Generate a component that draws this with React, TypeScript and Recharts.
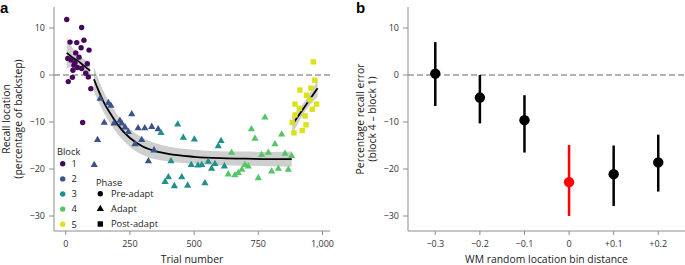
import React from "react";
import {
  ComposedChart,
  Scatter,
  Line,
  Area,
  XAxis,
  YAxis,
  ReferenceLine,
  ErrorBar,
} from "recharts";

const FONT = "'Open Sans', 'DejaVu Sans', sans-serif";
const AXIS = "#8c8c8c";
const TICK = "#333";
const INK = "#222";

// ---- panel a data ----
const blockNames = ["1", "2", "3", "4", "5"];
const blockColors = ["#46085c", "#3b528b", "#21908c", "#55c667", "#dbe219"];
const phaseNames = ["Pre-adapt", "Adapt", "Post-adapt"];
const trialTicks = [0, 250, 500, 750, 1000];
const recallTicks = [-30, -20, -10, 0, 10];

const block1 = [
  { trial: 4, recall: 11.8 }, { trial: 62, recall: 10.1 }, { trial: 17, recall: 7.0 },
  { trial: 43, recall: 6.9 }, { trial: 71, recall: 7.4 }, { trial: 60, recall: 5.8 },
  { trial: 91, recall: 5.3 }, { trial: 39, recall: 4.7 }, { trial: 8, recall: 3.5 },
  { trial: 21, recall: 3.2 }, { trial: 52, recall: 3.8 }, { trial: 84, recall: 2.4 },
  { trial: 32, recall: 2.1 }, { trial: 45, recall: 1.6 }, { trial: 62, recall: 1.4 },
  { trial: 28, recall: 1.0 }, { trial: 36, recall: 2.6 }, { trial: 78, recall: 0.4 },
  { trial: 88, recall: -0.4 }, { trial: 26, recall: -0.5 }, { trial: 10, recall: -1.4 },
  { trial: 98, recall: -2.9 }, { trial: 66, recall: -10.1 },
];

const block2 = [
  { trial: 111, recall: -19.1 }, { trial: 124, recall: -13.8 }, { trial: 134, recall: -5.0 },
  { trial: 166, recall: -5.9 }, { trial: 176, recall: -6.5 }, { trial: 150, recall: -10.1 },
  { trial: 188, recall: -10.3 }, { trial: 211, recall: -9.7 }, { trial: 218, recall: -10.3 },
  { trial: 231, recall: -11.1 }, { trial: 244, recall: -12.1 }, { trial: 257, recall: -8.3 },
  { trial: 270, recall: -14.7 }, { trial: 282, recall: -11.3 }, { trial: 296, recall: -13.8 },
  { trial: 308, recall: -11.3 }, { trial: 322, recall: -18.3 }, { trial: 335, recall: -11.0 },
  { trial: 344, recall: -16.0 }, { trial: 360, recall: -11.5 },
];

const block3 = [
  { trial: 371, recall: -12.3 }, { trial: 387, recall: -22.7 }, { trial: 400, recall: -21.7 },
  { trial: 410, recall: -18.3 }, { trial: 423, recall: -23.6 }, { trial: 436, recall: -10.5 },
  { trial: 452, recall: -21.7 }, { trial: 458, recall: -13.3 }, { trial: 475, recall: -23.5 },
  { trial: 489, recall: -19.1 }, { trial: 501, recall: -13.7 }, { trial: 515, recall: -19.2 },
  { trial: 530, recall: -19.1 }, { trial: 542, recall: -23.0 }, { trial: 555, recall: -18.4 },
  { trial: 568, recall: -19.9 }, { trial: 581, recall: -18.9 }, { trial: 594, recall: -15.1 },
  { trial: 605, recall: -14.0 }, { trial: 618, recall: -19.4 },
];

const block4 = [
  { trial: 633, recall: -21.1 }, { trial: 646, recall: -16.5 }, { trial: 659, recall: -21.3 },
  { trial: 672, recall: -20.8 }, { trial: 686, recall: -20.1 }, { trial: 698, recall: -19.1 },
  { trial: 711, recall: -19.4 }, { trial: 723, recall: -11.5 }, { trial: 737, recall: -13.5 },
  { trial: 750, recall: -21.9 }, { trial: 763, recall: -17.0 }, { trial: 776, recall: -9.0 },
  { trial: 789, recall: -16.5 }, { trial: 802, recall: -20.5 }, { trial: 815, recall: -14.7 },
  { trial: 828, recall: -19.9 }, { trial: 841, recall: -12.6 }, { trial: 854, recall: -16.7 },
  { trial: 867, recall: -20.1 }, { trial: 880, recall: -17.2 },
];

const block5 = [
  { trial: 964, recall: 2.8 }, { trial: 970, recall: -1.1 }, { trial: 912, recall: -3.2 },
  { trial: 955, recall: -2.8 }, { trial: 938, recall: -4.3 }, { trial: 951, recall: -5.3 },
  { trial: 893, recall: -6.2 }, { trial: 977, recall: -6.2 }, { trial: 910, recall: -7.1 },
  { trial: 960, recall: -7.3 }, { trial: 932, recall: -8.7 }, { trial: 893, recall: -8.5 },
  { trial: 882, recall: -10.1 }, { trial: 936, recall: -10.6 }, { trial: 921, recall: -11.8 },
  { trial: 889, recall: -12.3 },
];

// fitted curves and their confidence bands
const fitPreTrials = [4, 25, 50, 70, 95];
const fitPre = [4.7, 3.8, 2.9, 2.0, 0.9];
const fitPreLo = [1.4, 1.7, 1.6, 0.6, -1.0];
const fitPreHi = [8.0, 5.9, 4.2, 3.4, 2.8];

const fitAdaptTrials = [110, 130, 150, 175, 200, 250, 300, 350, 400, 500, 600, 700, 800, 880];
const fitAdapt = [-0.9, -3.6, -6.0, -8.3, -10.4, -13.4, -15.2, -16.2, -16.8, -17.4, -17.7, -17.8, -17.9, -17.9];
const fitAdaptLo = [-3.5, -6.0, -8.2, -10.4, -12.4, -15.3, -17.0, -17.9, -18.4, -18.9, -19.2, -19.3, -19.4, -19.5];
const fitAdaptHi = [1.7, -1.2, -3.8, -6.2, -8.4, -11.5, -13.4, -14.5, -15.2, -15.9, -16.2, -16.3, -16.4, -16.3];

const fitPostTrials = [882, 930, 981];
const fitPost = [-10.6, -6.8, -2.8];
const fitPostLo = [-12.6, -7.9, -4.6];
const fitPostHi = [-8.6, -5.7, -1.0];

// ---- panel b data ----
const binLabels = ["\u22120.3", "\u22120.2", "\u22120.1", "0", "+0.1", "+0.2"];
const binMeans = [0.3, -4.8, -9.6, -22.8, -21.1, -18.6];
const binLow = [-6.6, -10.3, -16.5, -30.0, -27.9, -24.8];
const binHigh = [7.0, 0.0, -4.3, -14.9, -15.0, -12.7];
const highlightBin = 3;

const toFit = (trials: number[], fit: number[], lo: number[], hi: number[]) =>
  trials.map((t, i) => ({ trial: t, fit: fit[i], band: [lo[i], hi[i]] }));

const fitPreRows = toFit(fitPreTrials, fitPre, fitPreLo, fitPreHi);
const fitAdaptRows = toFit(fitAdaptTrials, fitAdapt, fitAdaptLo, fitAdaptHi);
const fitPostRows = toFit(fitPostTrials, fitPost, fitPostLo, fitPostHi);

const binRows = binLabels.map((_, i) => ({
  bin: i,
  err: binMeans[i],
  ci: [binMeans[i] - binLow[i], binHigh[i] - binMeans[i]],
}));
const blackRows = binRows.filter((r) => r.bin !== highlightBin);
const redRows = binRows.filter((r) => r.bin === highlightBin);

const fmtNum = (v: number) => (v < 0 ? `\u2212${Math.abs(v)}` : `${v}`);
const fmtTrial = (v: number) => v.toLocaleString("en-US");

// marker shapes
const Circle = ({ cx, cy, fill, r = 2.7 }: any) => <circle cx={cx} cy={cy} r={r} fill={fill} />;
const Tri = ({ cx, cy, fill }: any) => (
  <polygon points={`${cx},${cy - 4.1} ${cx - 3.6},${cy + 2.2} ${cx + 3.6},${cy + 2.2}`} fill={fill} />
);
const Sq = ({ cx, cy, fill }: any) => <rect x={cx - 2.7} y={cy - 2.7} width={5.4} height={5.4} fill={fill} />;

const tickStyle = { fontSize: 9, fill: TICK, fontFamily: FONT };

const BAND = "#cfcfcf";

const PanelA = () => (
  <ComposedChart width={340} height={265} margin={{ top: 7, right: 10, bottom: 0, left: 0 }}>
    <XAxis
      type="number"
      dataKey="trial"
      domain={[-45.6, 1029.2]}
      ticks={trialTicks}
      tickFormatter={fmtTrial}
      height={34}
      tickSize={4}
      tickMargin={6}
      stroke={AXIS}
      tick={tickStyle}
    />
    <YAxis
      type="number"
      dataKey="recall"
      domain={[-33.19, 14.47]}
      ticks={recallTicks}
      tickFormatter={fmtNum}
      width={54}
      tickSize={5}
      tickMargin={4}
      stroke={AXIS}
      tick={tickStyle}
    />
    <ReferenceLine y={0} stroke="#666" strokeDasharray="6 3" />
    <Area data={fitPreRows} dataKey="band" type="monotone" stroke="none" fill={BAND} fillOpacity={1} isAnimationActive={false} />
    <Area data={fitAdaptRows} dataKey="band" type="monotone" stroke="none" fill={BAND} fillOpacity={1} isAnimationActive={false} />
    <Area data={fitPostRows} dataKey="band" type="monotone" stroke="none" fill={BAND} fillOpacity={1} isAnimationActive={false} />
    <Scatter data={block1} isAnimationActive={false} shape={(p: any) => <Circle cx={p.cx} cy={p.cy} fill={blockColors[0]} />} />
    <Scatter data={block2} isAnimationActive={false} shape={(p: any) => <Tri cx={p.cx} cy={p.cy} fill={blockColors[1]} />} />
    <Scatter data={block3} isAnimationActive={false} shape={(p: any) => <Tri cx={p.cx} cy={p.cy} fill={blockColors[2]} />} />
    <Scatter data={block4} isAnimationActive={false} shape={(p: any) => <Tri cx={p.cx} cy={p.cy} fill={blockColors[3]} />} />
    <Scatter data={block5} isAnimationActive={false} shape={(p: any) => <Sq cx={p.cx} cy={p.cy} fill={blockColors[4]} />} />
    <Line data={fitPreRows} dataKey="fit" type="monotone" stroke="#000" strokeWidth={1.8} dot={false} isAnimationActive={false} />
    <Line data={fitAdaptRows} dataKey="fit" type="monotone" stroke="#000" strokeWidth={1.8} dot={false} isAnimationActive={false} />
    <Line data={fitPostRows} dataKey="fit" type="monotone" stroke="#000" strokeWidth={1.8} dot={false} isAnimationActive={false} />
  </ComposedChart>
);

const PanelB = () => (
  <ComposedChart width={331} height={265} margin={{ top: 7, right: 0, bottom: 0, left: 0 }}>
    <XAxis
      type="number"
      dataKey="bin"
      domain={[-0.612, 5.6]}
      ticks={binLabels.map((_, i) => i)}
      tickFormatter={(v: number) => binLabels[v]}
      height={34}
      tickSize={4}
      tickMargin={6}
      stroke={AXIS}
      tick={tickStyle}
    />
    <YAxis
      type="number"
      dataKey="err"
      domain={[-33.19, 14.47]}
      ticks={recallTicks}
      tickFormatter={fmtNum}
      width={54}
      tickSize={5}
      tickMargin={4}
      stroke={AXIS}
      tick={tickStyle}
    />
    <ReferenceLine y={0} stroke="#666" strokeDasharray="6 3" />
    <Scatter data={blackRows} isAnimationActive={false} shape={(p: any) => <Circle cx={p.cx} cy={p.cy} r={5.2} fill="#000" />}>
      <ErrorBar dataKey="ci" direction="y" width={0} stroke="#000" strokeWidth={2.5} isAnimationActive={false} />
    </Scatter>
    <Scatter data={redRows} isAnimationActive={false} shape={(p: any) => <Circle cx={p.cx} cy={p.cy} r={5.2} fill="#ff0000" />}>
      <ErrorBar dataKey="ci" direction="y" width={0} stroke="#ff0000" strokeWidth={2.5} isAnimationActive={false} />
    </Scatter>
  </ComposedChart>
);

const Overlay = () => {
  const lf = 9.3;
  return (
    <svg width={685} height={265} style={{ position: "absolute", left: 0, top: 0, pointerEvents: "none" }} fontFamily={FONT}>
      <text x={0} y={12.5} fontSize={15} fontWeight="bold" fill="#000" fontFamily="'Liberation Sans', Arial, sans-serif">a</text>
      <text x={356} y={12.5} fontSize={15} fontWeight="bold" fill="#000" fontFamily="'Liberation Sans', Arial, sans-serif">b</text>

      {/* axis titles */}
      <text x={192} y={263} fontSize={10.4} fill={INK} textAnchor="middle">Trial number</text>
      <text x={546.5} y={263} fontSize={10.4} fill={INK} textAnchor="middle">WM random location bin distance</text>
      <text transform="translate(10,119) rotate(-90)" fontSize={10.4} fill={INK} textAnchor="middle">Recall location</text>
      <text transform="translate(21.5,119) rotate(-90)" fontSize={10.4} fill={INK} textAnchor="middle">(percentage of backstep)</text>
      <text transform="translate(364,119) rotate(-90)" fontSize={10.4} fill={INK} textAnchor="middle">Percentage recall error</text>
      <text transform="translate(375.5,119) rotate(-90)" fontSize={10.4} fill={INK} textAnchor="middle">(block 4 – block 1)</text>

      {/* Block legend */}
      <text x={57} y={154.5} fontSize={lf} fill={INK}>Block</text>
      {blockNames.map((b, i) => {
        const cy = 163.8 + 15.1 * i;
        return (
          <g key={b}>
            <Circle cx={62.7} cy={cy} fill={blockColors[i]} />
            <text x={71.5} y={cy + 3.3} fontSize={lf} fill={INK}>{b}</text>
          </g>
        );
      })}

      {/* Phase legend */}
      <text x={96} y={185.5} fontSize={lf} fill={INK}>Phase</text>
      {phaseNames.map((p, i) => {
        const cy = 193.8 + 15.1 * i;
        const Shape = [Circle, Tri, Sq][i];
        return (
          <g key={p}>
            <Shape cx={100.3} cy={cy} fill="#000" />
            <text x={111} y={cy + 3.3} fontSize={lf} fill={INK}>{p}</text>
          </g>
        );
      })}
    </svg>
  );
};

const App = () => (
  <div style={{ position: "absolute", left: 0, top: 0, width: 685, height: 265, background: "#fff", fontFamily: FONT }}>
    <div style={{ position: "absolute", left: 0, top: 0 }}>
      <PanelA />
    </div>
    <div style={{ position: "absolute", left: 354, top: 0 }}>
      <PanelB />
    </div>
    <Overlay />
  </div>
);

export default App;
